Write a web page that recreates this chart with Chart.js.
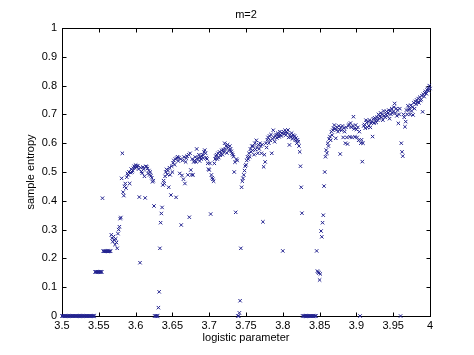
<!DOCTYPE html>
<html>
<head>
<meta charset="utf-8">
<title>m=2</title>
<script src="https://cdn.jsdelivr.net/npm/chart.js@4.4.1/dist/chart.umd.min.js"></script>
<style>
  html, body { margin: 0; padding: 0; background: #fff; }
  #chart { display: block; }
</style>
</head>
<body>
<canvas id="chart" width="474" height="355"></canvas>
<script>
// sample entropy (m=2) of the logistic map, parameter swept 3.5 -> 4 in steps of 0.001
const paramStart = 3.5;
const paramStep = 0.001;

// one row per 0.01 of the parameter
const entropy = [
    0, 0, 0, 0, 0, 0, 0, 0, 0, 0,                                               // 3.50
    0, 0, 0, 0, 0, 0, 0, 0, 0, 0,                                               // 3.51
    0, 0, 0, 0, 0, 0, 0, 0, 0, 0,                                               // 3.52
    0, 0, 0, 0, 0, 0, 0, 0, 0, 0,                                               // 3.53
    0, 0, 0, 0, 0, 0.153, 0.153, 0.153, 0.153, 0.153,                           // 3.54
    0.153, 0.153, 0.153, 0.153, 0.153, 0.409, 0.225, 0.225, 0.225, 0.225,       // 3.55
    0.225, 0.225, 0.225, 0.225, 0.225, 0.225, 0.225, 0.282, 0.27, 0.258,        // 3.56
    0.276, 0.265, 0.248, 0.268, 0.255, 0.235, 0.286, 0.300, 0.310, 0.338,       // 3.57
    0.342, 0.478, 0.565, 0.43, 0.418, 0.45, 0.46, 0.444, 0.482, 0.495,          // 3.58
    0.49, 0.50, 0.46, 0.498, 0.51, 0.50, 0.505, 0.513, 0.52, 0.515,             // 3.59
    0.524, 0.52, 0.518, 0.522, 0.51, 0.413, 0.185, 0.515, 0.502, 0.496,         // 3.60
    0.517, 0.51, 0.485, 0.41, 0.52, 0.518, 0.512, 0.495, 0.505, 0.49,           // 3.61
    0.50, 0.487, 0.48, 0.466, 0.47, 0.382, 0, 0, 0, 0,                          // 3.62
    0, 0.029, 0.084, 0.235, 0.324, 0.356, 0.377, 0.455, 0.47, 0.46,             // 3.63
    0.485, 0.50, 0.509, 0.492, 0.505, 0.447, 0.515, 0.49, 0.42, 0.52,          // 3.64
    0.50, 0.532, 0.54, 0.525, 0.545, 0.412, 0.548, 0.553, 0.538, 0.55,          // 3.65
    0.495, 0.545, 0.316, 0.488, 0.54, 0.475, 0.552, 0.46, 0.535, 0.548,         // 3.66
    0.555, 0.49, 0.56, 0.343, 0.565, 0.507, 0.49, 0.545, 0.49, 0.535,           // 3.67
    0.54, 0.552, 0.535, 0.58, 0.545, 0.55, 0.56, 0.538, 0.552, 0.545,           // 3.68
    0.555, 0.56, 0.548, 0.57, 0.576, 0.565, 0.55, 0.545, 0.53, 0.51,            // 3.69
    0.507, 0.53, 0.354, 0.49, 0.48, 0.475, 0.468, 0.53, 0.545, 0.555,           // 3.70
    0.56, 0.545, 0.565, 0.55, 0.57, 0.558, 0.565, 0.575, 0.56, 0.578,           // 3.71
    0.57, 0.60, 0.58, 0.59, 0.566, 0.595, 0.585, 0.575, 0.59, 0.58,             // 3.72
    0.572, 0.565, 0.56, 0.553, 0.50, 0.534, 0.36, 0.545, 0.54, 0,               // 3.73
    0, 0.011, 0.053, 0.235, 0.447, 0.468, 0.478, 0.49, 0.505, 0.52,             // 3.74
    0.525, 0.54, 0.553, 0.545, 0.565, 0.553, 0.58, 0.57, 0.59, 0.575,           // 3.75
    0.59, 0.56, 0.60, 0.578, 0.61, 0.585, 0.565, 0.595, 0.58, 0.60,             // 3.76
    0.59, 0.565, 0.595, 0.327, 0.518, 0.56, 0.535, 0.60, 0.585, 0.612,          // 3.77
    0.62, 0.60, 0.625, 0.61, 0.63, 0.565, 0.615, 0.645, 0.62, 0.605,            // 3.78
    0.625, 0.63, 0.618, 0.635, 0.628, 0.622, 0.64, 0.63, 0.625, 0.635,         // 3.79
    0.226, 0.64, 0.632, 0.645, 0.628, 0.64, 0.635, 0.646, 0.62, 0.594,          // 3.80
    0.63, 0.622, 0.635, 0.615, 0.628, 0.62, 0.625, 0.61, 0.618, 0.60,           // 3.81
    0.612, 0.605, 0.59, 0.57, 0.52, 0.447, 0.357, 0, 0, 0,                      // 3.82
    0, 0, 0, 0, 0, 0, 0, 0, 0, 0,                                               // 3.83
    0, 0, 0, 0, 0, 0, 0.226, 0.156, 0.152, 0.149,                               // 3.84
    0.125, 0.146, 0.295, 0.275, 0.324, 0.35, 0.451, 0.50, 0.553, 0.576,         // 3.85
    0.565, 0.60, 0.59, 0.615, 0.623, 0.61, 0.64, 0.628, 0.645, 0.652,           // 3.86
    0.663, 0.65, 0.617, 0.646, 0.655, 0.64, 0.66, 0.648, 0.5625, 0.655,         // 3.87
    0.645, 0.66, 0.62, 0.652, 0.64, 0.60, 0.655, 0.62, 0.597, 0.66,             // 3.88
    0.665, 0.622, 0.67, 0.655, 0.62, 0.66, 0.692, 0.65, 0.622, 0.663,           // 3.89
    0.648, 0.62, 0.655, 0.61, 0.64, 0, 0.60, 0.612, 0.536, 0.60,                // 3.90
    0.66, 0.665, 0.652, 0.68, 0.672, 0.655, 0.675, 0.66, 0.68, 0.655,           // 3.91
    0.67, 0.675, 0.623, 0.685, 0.67, 0.688, 0.68, 0.672, 0.69, 0.68,            // 3.92
    0.70, 0.685, 0.694, 0.705, 0.69, 0.70, 0.68, 0.712, 0.695, 0.69,            // 3.93
    0.70, 0.71, 0.695, 0.705, 0.715, 0.685, 0.712, 0.70, 0.72, 0.705,           // 3.94
    0.71, 0.725, 0.738, 0.705, 0.72, 0.695, 0.715, 0.669, 0.70, 0.72,           // 3.95
    0, 0.60, 0.57, 0.555, 0.70, 0.69, 0.657, 0.675, 0.715, 0.70,                // 3.96
    0.73, 0.715, 0.72, 0.70, 0.732, 0.712, 0.725, 0.698, 0.74, 0.72,            // 3.97
    0.745, 0.735, 0.75, 0.742, 0.755, 0.74, 0.76, 0.748, 0.752, 0.765,          // 3.98
    0.709, 0.77, 0.762, 0.775, 0.78, 0.772, 0.785, 0.79, 0.782, 0.80,           // 3.99
    0.79                                                                        // 4.00
];

const xTickValues = [3.5, 3.55, 3.6, 3.65, 3.7, 3.75, 3.8, 3.85, 3.9, 3.95, 4];
const yTickValues = [0, 0.1, 0.2, 0.3, 0.4, 0.5, 0.6, 0.7, 0.8, 0.9, 1];

const points = entropy.map((v, i) => ({
    x: +(paramStart + i * paramStep).toFixed(3),
    y: v
}));

const labelFont = { family: 'Liberation Sans, Arial, sans-serif', size: 11 };

// box + inward tick marks like a MATLAB axes
const matlabAxes = {
    id: 'matlabAxes',
    beforeDatasetsDraw(chart) {
        const { ctx, chartArea: a, scales: { x, y } } = chart;
        const L = Math.round(a.left) + 0.5, R = Math.round(a.right) + 0.5;
        const T = Math.round(a.top) + 0.5, B = Math.round(a.bottom) + 0.5;
        const tick = 4;
        ctx.save();
        ctx.strokeStyle = '#000';
        ctx.lineWidth = 1;
        ctx.strokeRect(L, T, R - L, B - T);
        ctx.beginPath();
        xTickValues.forEach(v => {
            const px = Math.round(x.getPixelForValue(v)) + 0.5;
            ctx.moveTo(px, B); ctx.lineTo(px, B - tick);
            ctx.moveTo(px, T); ctx.lineTo(px, T + tick);
        });
        yTickValues.forEach(v => {
            const py = Math.round(y.getPixelForValue(v)) + 0.5;
            ctx.moveTo(L, py); ctx.lineTo(L + tick, py);
            ctx.moveTo(R, py); ctx.lineTo(R - tick, py);
        });
        ctx.stroke();
        ctx.restore();
    }
};

new Chart(document.getElementById('chart'), {
    type: 'scatter',
    data: {
        datasets: [{
            label: 'sample entropy',
            data: points,
            pointStyle: 'crossRot',
            pointRadius: 2.4,
            pointHoverRadius: 2.4,
            borderWidth: 1,
            borderColor: '#22228f',
            backgroundColor: '#22228f',
            clip: false
        }]
    },
    options: {
        responsive: false,
        animation: false,
        devicePixelRatio: 1,
        layout: { padding: { left: 0, right: 44, top: 0, bottom: 0 } },
        plugins: {
            legend: { display: false },
            tooltip: { enabled: false },
            title: {
                display: true,
                text: 'm=2',
                fullSize: false,
                color: '#000',
                font: { family: labelFont.family, size: 11, weight: 'normal' },
                padding: { top: 8.4, bottom: 6.4 }
            }
        },
        scales: {
            x: {
                type: 'linear',
                min: 3.5,
                max: 4,
                grid: { display: false, drawTicks: false },
                border: { display: false },
                afterBuildTicks: s => { s.ticks = xTickValues.map(v => ({ value: v })); },
                afterFit: s => { s.height = 39; },
                ticks: {
                    autoSkip: false,
                    maxRotation: 0,
                    padding: 3,
                    color: '#000',
                    font: labelFont,
                    callback: v => String(v)
                },
                title: {
                    display: true,
                    text: 'logistic parameter',
                    color: '#000',
                    font: labelFont,
                    padding: { top: 0, bottom: 10.4 }
                }
            },
            y: {
                type: 'linear',
                min: 0,
                max: 1,
                grid: { display: false, drawTicks: false },
                border: { display: false },
                afterBuildTicks: s => { s.ticks = yTickValues.map(v => ({ value: v })); },
                afterFit: s => { s.width = 62; },
                ticks: {
                    autoSkip: false,
                    padding: 5,
                    color: '#000',
                    font: labelFont,
                    callback: v => String(v)
                },
                title: {
                    display: true,
                    text: 'sample entropy',
                    color: '#000',
                    font: labelFont,
                    padding: { top: 24.4, bottom: 0 }
                }
            }
        }
    },
    plugins: [matlabAxes]
});
</script>
</body>
</html>
